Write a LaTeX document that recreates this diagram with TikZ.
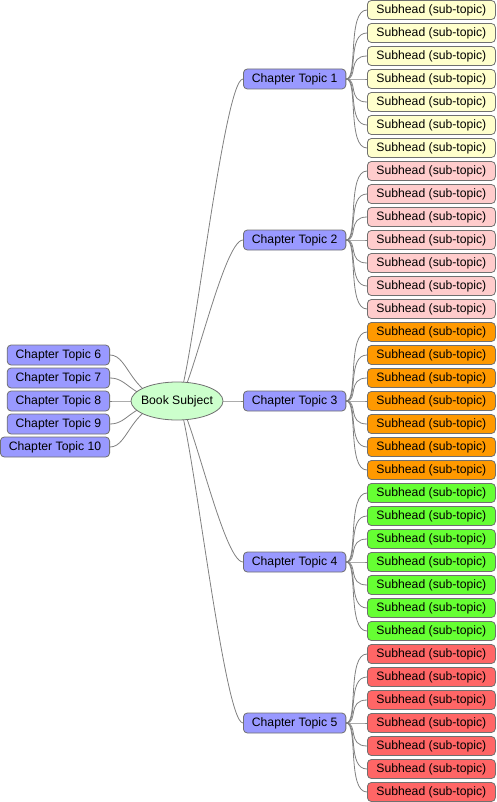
\documentclass[tikz,border=0pt]{standalone}
\usepackage{fontspec}
\setmainfont{Liberation Sans}
\usetikzlibrary{shapes.geometric,backgrounds}
\definecolor{edgec}{HTML}{808080}
\definecolor{bordc}{HTML}{707070}
\definecolor{topicc}{HTML}{9999FF}
\definecolor{rootc}{HTML}{CCFFCC}
\definecolor{gA}{HTML}{FFFFCC}
\definecolor{gB}{HTML}{FFCCCC}
\definecolor{gC}{HTML}{FF9900}
\definecolor{gD}{HTML}{66FF33}
\definecolor{gE}{HTML}{FF6666}
\tikzset{
  box/.style={draw=bordc, line width=0.8pt, rounded corners=4pt, inner xsep=8.5pt, inner ysep=0pt,
    font=\fontsize{12.2}{14}\selectfont, text=black},
  topicbox/.style={box, fill=topicc, minimum height=20pt},
  subbox/.style={box, minimum height=19pt, minimum width=128pt, anchor=west},
  rootnode/.style={ellipse, draw=bordc, line width=0.8pt, fill=rootc, minimum width=92pt, minimum height=38pt,
    inner sep=0pt, font=\fontsize{12.2}{14}\selectfont},
  edge/.style={draw=edgec, line width=0.8pt}
}
\begin{document}
\begin{tikzpicture}[x=1pt,y=-1pt]
\useasboundingbox (0,0) rectangle (496,802);
% nodes
\node[rootnode] (root) at (177,401) {\makebox[0pt]{Book Subject}};
\foreach \i/\y in {1/79,2/240,3/401,4/562,5/723}{
  \node[topicbox, anchor=west] (t\i) at (243,\y) {Chapter Topic \i};
}
\foreach \i/\y in {6/355,7/378,8/401,9/424,10/447}{
  \node[topicbox, anchor=east] (t\i) at (110,\y) {Chapter Topic \i};
}
\foreach \g/\c in {1/gA,2/gB,3/gC,4/gD,5/gE}{
  \foreach \k in {0,...,6}{
    \pgfmathtruncatemacro{\yy}{10+23*((\g-1)*7+\k)}
    \node[subbox, fill=\c] (s\g-\k) at (367,\yy) {Subhead (sub-topic)};
  }
}
% edges
\begin{pgfonlayer}{background}
\foreach \i in {1,...,5}{
  \draw[edge] (root.center) .. controls +(12,0) and +(-20,0) .. (t\i.west);
  \foreach \k in {0,...,6}{
    \draw[edge] (t\i.east) .. controls +(12,0) and +(-20,0) .. (s\i-\k.west);
  }
}
\foreach \i in {6,...,10}{
  \draw[edge] (root.center) .. controls +(-47,0) and +(20,0) .. (t\i.east);
}
\end{pgfonlayer}
\end{tikzpicture}
\end{document}
